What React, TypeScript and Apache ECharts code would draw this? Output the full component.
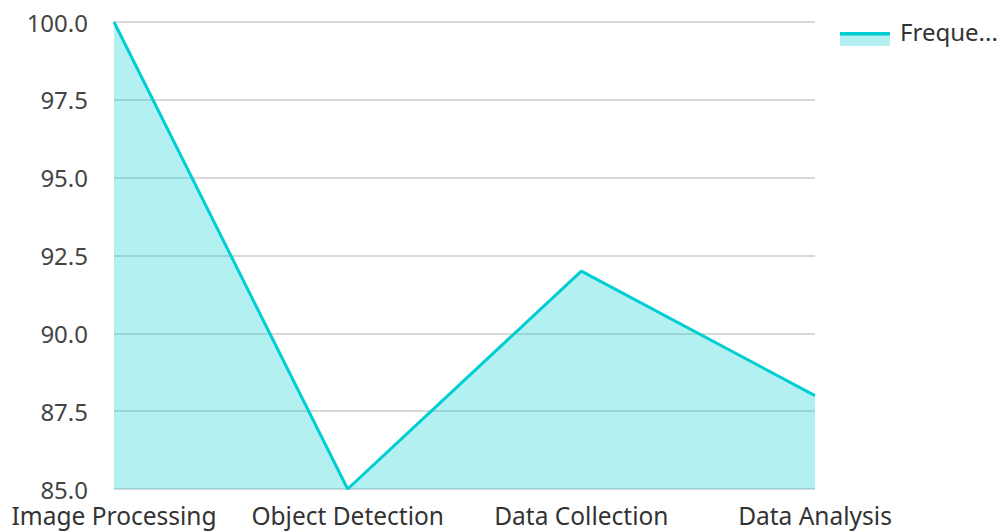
import React, { useEffect, useRef } from "react";
import * as echarts from "echarts";

const categories = ["Image Processing", "Object Detection", "Data Collection", "Data Analysis"];
const frequencyValues = [100, 85, 92, 88];
const seriesName = "Frequency";

export default function App() {
  const ref = useRef<HTMLDivElement>(null);
  useEffect(() => {
    if (!ref.current) return;
    const chart = echarts.init(ref.current, undefined, { renderer: "svg" });
    chart.setOption({
      animation: false,
      textStyle: { fontFamily: "Noto Sans" },
      grid: { left: 114, right: 187, top: 22, bottom: 42, containLabel: false },
      legend: {
        left: 840,
        top: 19,
        padding: 0,
        icon: "rect",
        itemWidth: 50,
        itemHeight: 14,
        itemStyle: { color: "rgba(0,0,0,0)", borderWidth: 0 },
        lineStyle: { width: 0 },
        textStyle: {
          fontSize: 24,
          color: "#333",
          width: 106,
          overflow: "truncate",
          fontFamily: "Noto Sans",
          padding: [0, 0, 0, 5],
        },
        data: [seriesName],
      },
      graphic: [
        {
          type: "rect",
          z: 100,
          shape: { x: 840, y: 32, width: 50, height: 14 },
          style: { fill: "rgba(0,206,209,0.3)" },
        },
        {
          type: "rect",
          z: 101,
          shape: { x: 840, y: 32, width: 50, height: 3.5 },
          style: { fill: "#00CED1" },
        },
      ],
      xAxis: {
        type: "category",
        data: categories,
        boundaryGap: false,
        axisLine: { show: false },
        axisTick: { show: false },
        axisLabel: { fontSize: 24.5, color: "#333", margin: 14, interval: 0, fontFamily: "Noto Sans" },
      },
      yAxis: {
        type: "value",
        min: 85,
        max: 100,
        interval: 2.5,
        axisLine: { show: false },
        axisTick: { show: false },
        axisLabel: {
          fontSize: 24,
          color: "#444",
          margin: 26,
          fontFamily: "Noto Sans",
          formatter: (v: number) => v.toFixed(1),
        },
        splitLine: { lineStyle: { color: "#ccc", width: 1.5 } },
      },
      series: [
        {
          name: seriesName,
          type: "line",
          data: frequencyValues,
          showSymbol: false,
          symbol: "none",
          lineStyle: { color: "#00CED1", width: 3 },
          itemStyle: { color: "#00CED1" },
          areaStyle: { color: "#00CED1", opacity: 0.3 },
        },
      ],
    });
    return () => chart.dispose();
  }, []);
  return <div ref={ref} style={{ width: 1002, height: 531, position: "absolute", left: 0, top: 0 }} />;
}
